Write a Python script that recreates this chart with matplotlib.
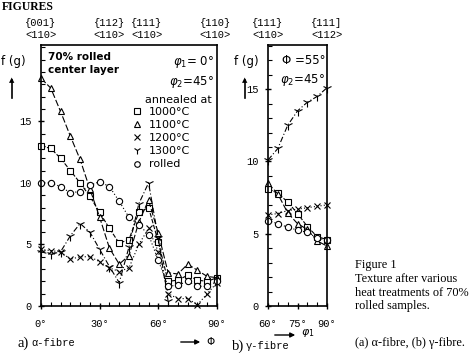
import numpy as np
import matplotlib
matplotlib.use('Agg')
import matplotlib.pyplot as plt
from matplotlib.lines import Line2D
from matplotlib.transforms import blended_transform_factory

# alpha-fibre, Phi in degrees
phi_alpha = [0, 5, 10, 15, 20, 25, 30, 35, 40, 45, 50, 55, 60, 65, 70, 75, 80, 85, 90]
a_1000 = [13.0, 12.8, 12.0, 11.0, 10.0, 8.9, 7.6, 6.3, 5.1, 5.4, 7.6, 8.0, 5.2, 2.0, 2.1, 2.5, 2.1, 2.0, 2.3]
a_1100 = [18.5, 17.7, 15.8, 13.8, 11.9, 9.5, 7.2, 4.7, 3.4, 4.1, 6.8, 8.6, 5.9, 2.7, 2.6, 3.4, 2.9, 2.4, 2.3]
a_1200 = [4.6, 4.5, 4.4, 3.8, 4.0, 4.0, 3.6, 3.1, 2.8, 3.1, 5.0, 6.3, 4.4, 1.0, 0.6, 0.6, 0.1, 1.0, 1.9]
a_1300 = [4.4, 4.2, 4.4, 5.7, 6.7, 6.0, 4.6, 3.2, 1.9, 4.8, 8.3, 10.0, 5.5, 0.4,
          np.nan, np.nan, np.nan, np.nan, np.nan]
a_rolled = [10.0, 10.0, 9.7, 9.2, 9.3, 9.8, 10.1, 9.7, 8.5, 7.2, 6.6, 5.8, 3.7, 1.6, 1.7, 2.0, 1.6, 1.6, 2.0]

# gamma-fibre, phi1 in degrees
phi1_gamma = [60, 65, 70, 75, 80, 85, 90]
g_1000 = [8.1, 7.8, 7.2, 6.4, 5.5, 4.8, 4.6]
g_1100 = [8.5, 7.75, 6.45, 5.7, 5.3, 4.5, 4.15]
g_1200 = [6.3, 6.4, 6.6, 6.7, 6.8, 6.9, 7.0]
g_1300 = [10.1, 10.9, 12.5, 13.5, 14.1, 14.5, 15.1]
g_rolled = [5.9, 5.7, 5.45, 5.25, 5.1, 4.7, 4.55]

legend_labels = ['1000°C', '1100°C', '1200°C', '1300°C', 'rolled']
alpha_top = [(0, '{001}'), (35, '{112}'), (54, '{111}'), (89, '{110}')]
gamma_top = [(60, '{111}', '<110>'), (90, '{111]', '<112>')]

W, H = 474, 353
fig = plt.figure(figsize=(W / 100, H / 100), dpi=100)

def fx(px):
    return px / W

def fy(py):
    return 1 - py / H

styles = [
    dict(marker='s', linestyle=(0, (4, 1.5))),
    dict(marker='^', linestyle=(0, (6, 2))),
    dict(marker='x', linestyle=(0, (1, 2))),
    dict(marker='1', linestyle=(0, (5, 2, 1, 2))),
    dict(marker='o', linestyle=(0, (1, 2))),
]

def msize(m):
    return 6.5 if m == '1' else 4.5

def draw(ax, x, series):
    for ys, st in zip(series, styles):
        ax.plot(x, ys, color='black', lw=0.8, markersize=msize(st['marker']),
                mfc='white', mec='black', mew=0.8, clip_on=False, **st)

def style_axes(ax):
    for s in ax.spines.values():
        s.set_linewidth(1.2)
    ax.tick_params(which='major', direction='inout', length=5, width=1,
                   labelsize=7.5, pad=4)
    ax.tick_params(axis='x', which='major', pad=7)
    ax.tick_params(which='minor', direction='in', length=3, width=0.8)
    ax.yaxis.set_minor_locator(plt.MultipleLocator(1))
    ax.xaxis.set_minor_locator(plt.MultipleLocator(5))
    for lab in ax.get_yticklabels():
        lab.set_family('Liberation Mono')

# left panel: alpha-fibre
ax1 = fig.add_axes([fx(41), fy(306), fx(217) - fx(41), fy(45) - fy(306)])
draw(ax1, phi_alpha, [a_1000, a_1100, a_1200, a_1300, a_rolled])
ax1.set_xlim(0, 90)
ax1.set_ylim(0, 21.2)
ax1.set_xticks([0, 30, 60, 90])
ax1.set_xticklabels(['0°', '30°', '60°', '90°'], family='Liberation Mono')
ax1.set_yticks([0, 5, 10, 15])
style_axes(ax1)

# right panel: gamma-fibre
ax2 = fig.add_axes([fx(268), fy(306), fx(327) - fx(268), fy(45) - fy(306)])
draw(ax2, phi1_gamma, [g_1000, g_1100, g_1200, g_1300, g_rolled])
ax2.set_xlim(60, 90)
ax2.set_ylim(0, 18.06)
ax2.set_xticks([60, 75, 90])
ax2.set_xticklabels(['60°', '75°', '90°'], family='Liberation Mono')
ax2.set_yticks([0, 5, 10, 15])
style_axes(ax2)

mono = dict(family='Liberation Mono', fontsize=7.5)
t1 = blended_transform_factory(ax1.transData, fig.transFigure)
for x, plane in alpha_top:
    fig.text(x, fy(23), plane, transform=t1, ha='center', va='center', **mono)
    fig.text(x, fy(35), '<110>', transform=t1, ha='center', va='center', **mono)
t2 = blended_transform_factory(ax2.transData, fig.transFigure)
for x, plane, direc in gamma_top:
    fig.text(x, fy(23), plane, transform=t2, ha='center', va='center', **mono)
    fig.text(x, fy(35), direc, transform=t2, ha='center', va='center', **mono)

fig.text(fx(2), fy(7), 'FIGURES', family='Liberation Serif', weight='bold',
         fontsize=8.5, va='center')

# y labels with arrows
for x0 in (1, 234):
    fig.text(fx(x0), fy(62), 'f (g)', fontsize=8.5, va='center')
    fig.add_artist(plt.Line2D([fx(x0 + 11)] * 2, [fy(98), fy(80)], color='black', lw=1.2))
    fig.text(fx(x0 + 11), fy(80), '▲', fontsize=5, ha='center', va='center')

# texts inside left panel
fig.text(fx(48), fy(57), '70% rolled', fontsize=7.5, va='center', weight='semibold')
fig.text(fx(48), fy(70), 'center layer', fontsize=7.5, va='center', weight='semibold')
fig.text(fx(214), fy(62), r'$\varphi_1$= 0°', fontsize=8.5, ha='right', va='center')
fig.text(fx(214), fy(82), r'$\varphi_2$=45°', fontsize=8.5, ha='right', va='center')
fig.text(fx(212), fy(100), 'annealed at', fontsize=8, ha='right', va='center')

handles = [Line2D([], [], color='black', linestyle='none', marker=st['marker'],
                  markersize=msize(st['marker']) - 0.5, mfc='white',
                  mec='black', mew=0.8) for st in styles]
ax1.legend(handles, legend_labels, loc='upper left',
           bbox_to_anchor=((133 - 41) / 176, (306 - 107) / 261),
           frameon=False, prop=dict(size=8), handlelength=0.8, handletextpad=0.6,
           labelspacing=0.28, borderaxespad=0, borderpad=0)

# texts inside right panel
fig.text(fx(325), fy(60), 'Φ =55°', fontsize=8.5, ha='right', va='center')
fig.text(fx(325), fy(80), r'$\varphi_2$=45°', fontsize=8.5, ha='right', va='center')

arrow = dict(arrowstyle='-|>', color='black', lw=1, mutation_scale=7)

# bottom labels
fig.text(fx(17), fy(343), 'a)', family='Liberation Serif', fontsize=10.5, va='center')
fig.text(fx(31), fy(343), 'α-fibre', fontsize=7.5, va='center', family='Liberation Mono')
ax1.annotate('', xy=(fx(203), fy(342)), xytext=(fx(178), fy(342)),
             xycoords='figure fraction', textcoords='figure fraction',
             annotation_clip=False, arrowprops=arrow)
fig.text(fx(206), fy(342), 'Φ', fontsize=7.5, va='center')

fig.text(fx(232), fy(346), 'b)', family='Liberation Serif', fontsize=10.5, va='center')
fig.text(fx(246), fy(346), 'γ-fibre', fontsize=7.5, va='center', family='Liberation Mono')
ax2.annotate('', xy=(fx(298), fy(335)), xytext=(fx(272), fy(335)),
             xycoords='figure fraction', textcoords='figure fraction',
             annotation_clip=False, arrowprops=arrow)
fig.text(fx(301), fy(333), r'$\varphi_1$', fontsize=8, va='center')

# caption
cap = dict(family='Liberation Serif', fontsize=8.8, va='center')
fig.text(fx(355), fy(265), 'Figure 1', **cap)
fig.text(fx(355), fy(279), 'Texture after various', **cap)
fig.text(fx(355), fy(293), 'heat treatments of 70%', **cap)
fig.text(fx(355), fy(306), 'rolled samples.', **cap)
fig.text(fx(355), fy(343), '(a) α-fibre, (b) γ-fibre.', **cap)

fig.savefig('out.png', dpi=100)
